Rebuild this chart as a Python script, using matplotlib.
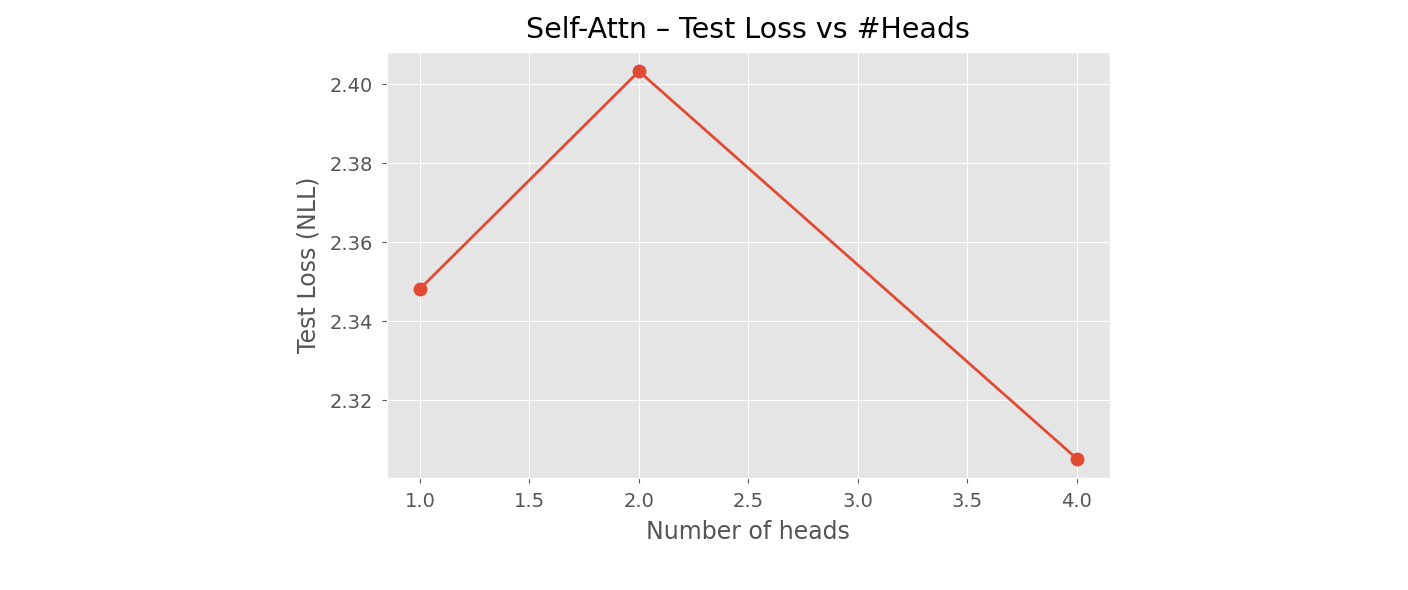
import matplotlib
matplotlib.use("Agg")
import matplotlib.pyplot as plt

plt.style.use("ggplot")

# donnees
heads = [1, 2, 4]
test_loss = [2.3482, 2.4033, 2.3052]

fig = plt.figure(figsize=(14.08, 5.9), dpi=100)
ax = fig.add_axes([0.275, 0.19, 0.513, 0.722])

ax.plot(heads, test_loss, marker='o', linewidth=2, markersize=9)

ax.set_xticks([1.0, 1.5, 2.0, 2.5, 3.0, 3.5, 4.0])
ax.set_yticks([2.32, 2.34, 2.36, 2.38, 2.40])
ax.tick_params(labelsize=14, pad=7)
ax.set_xlabel("Number of heads", fontsize=17, labelpad=6)
ax.set_ylabel("Test Loss (NLL)", fontsize=17, labelpad=6)
ax.set_title("Self-Attn – Test Loss vs #Heads", fontsize=20.5, pad=10)

fig.savefig("out.png")
